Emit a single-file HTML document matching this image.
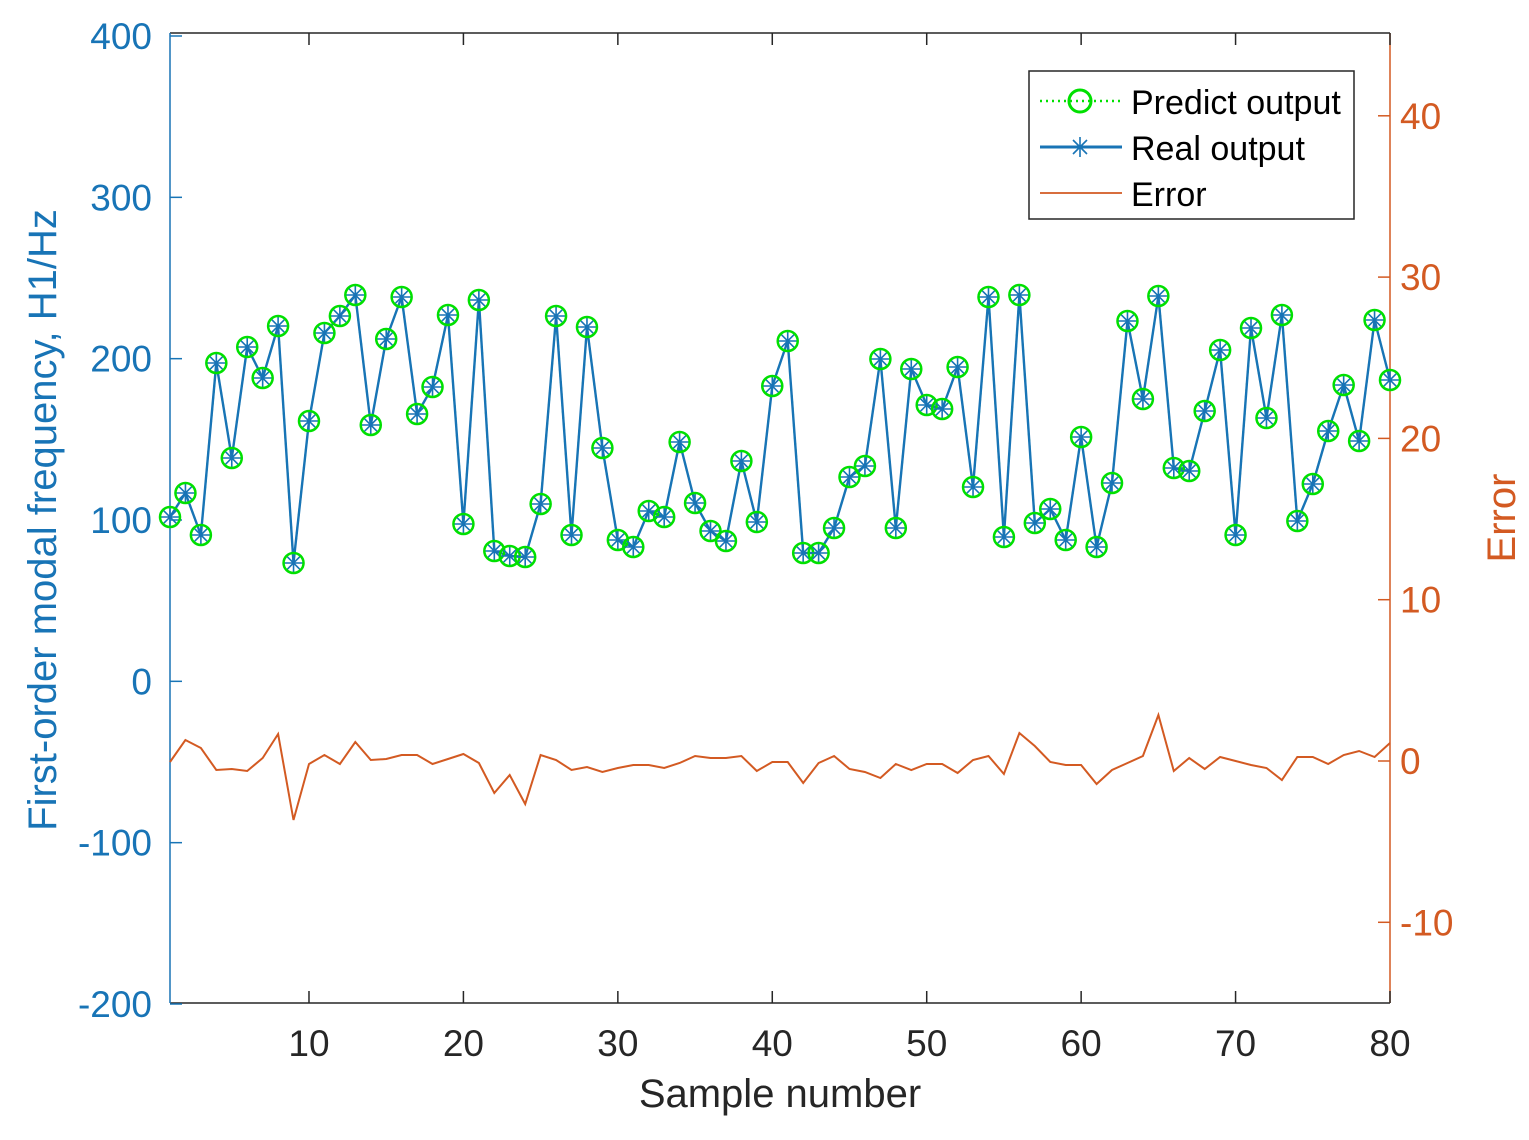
<!DOCTYPE html>
<html><head><meta charset="utf-8"><style>
html,body{margin:0;padding:0;background:#fff}
svg text{font-family:"Liberation Sans",sans-serif}
</style></head><body>
<svg id="s" width="1529" height="1135" xmlns="http://www.w3.org/2000/svg">
<rect width="1529" height="1135" fill="#fff"/>
<g id="g"></g>
</svg>
<script>
const Y=[517,493,535,363,458,347,378,326,563,421,333,316,295,425,339,297,414,387,315,524,300,551,556,557,504,316,535,327,448,540,547,511,517,442,503,531,541,461,522,386,341,553,553,528,477,466,359,528,369,405,409,367,487,297,537,295,523,509,540,437,547,483,321,399,296,468,471,411,350,535,328,418,315,521,484,431,385,441,320,380];
const E=[762,740,748,770,769,771,758,734,820,764,755,764,742,760,759,755,755,764,759,754,763,793,775,804,755,760,770,767,772,768,765,765,768,763,756,758,758,756,771,762,762,783,763,756,769,772,778,764,770,764,764,773,760,756,774,733,746,762,765,765,784,770,763,756,715,771,758,769,757,761,765,768,780,757,757,764,755,751,757,743];
const X=i=>170+i*1220/79;
const blue="#1874B6",org="#D35A22",grn="#00E000";
let h="";
h+=`<line x1="170" y1="33" x2="1390" y2="33" stroke="#262626" stroke-width="1.5"/>`;
h+=`<line x1="170" y1="1003" x2="1390" y2="1003" stroke="#262626" stroke-width="1.5"/>`;
h+=`<line x1="170" y1="33" x2="170" y2="1003" stroke="${blue}" stroke-width="1.5"/>`;
h+=`<line x1="1390" y1="33" x2="1390" y2="1003" stroke="${org}" stroke-width="1.5"/>`;
for(let v=10;v<=80;v+=10){const x=170+(v-1)*1220/79;
h+=`<line x1="${x}" y1="1003" x2="${x}" y2="991" stroke="#262626" stroke-width="1.5"/><line x1="${x}" y1="33" x2="${x}" y2="45" stroke="#262626" stroke-width="1.5"/>`;
h+=`<text x="${x}" y="1056" font-size="37" fill="#262626" text-anchor="middle">${v}</text>`;}
for(let v=-200;v<=400;v+=100){const y=36+(400-v)*968/600;
h+=`<line x1="170" y1="${y}" x2="182" y2="${y}" stroke="${blue}" stroke-width="1.5"/>`;
h+=`<text x="152" y="${y+13}" font-size="37" fill="${blue}" text-anchor="end">${v}</text>`;}
for(let v=-10;v<=40;v+=10){const y=761-v*16.13;
h+=`<line x1="1378" y1="${y}" x2="1390" y2="${y}" stroke="${org}" stroke-width="1.5"/>`;
h+=`<text x="1400" y="${y+13}" font-size="37" fill="${org}">${v}</text>`;}
h+=`<text x="780" y="1107" font-size="40" fill="#262626" text-anchor="middle">Sample number</text>`;
h+=`<text transform="translate(56,520) rotate(-90)" font-size="40" fill="${blue}" text-anchor="middle">First-order modal frequency, H1/Hz</text>`;
h+=`<text transform="translate(1515,518) rotate(-90)" font-size="40" fill="${org}" text-anchor="middle">Error</text>`;
const pts=Y.map((y,i)=>X(i).toFixed(1)+","+y).join(" ");
const ept=E.map((y,i)=>X(i).toFixed(1)+","+y).join(" ");
h+=`<polyline points="${ept}" fill="none" stroke="${org}" stroke-width="2"/>`;
h+=`<polyline points="${pts}" fill="none" stroke="${grn}" stroke-width="2" stroke-dasharray="2,4"/>`;
h+=`<polyline points="${pts}" fill="none" stroke="${blue}" stroke-width="2.4"/>`;
const star=(x,y,r)=>`<path d="M${x-r},${y}H${x+r}M${x},${y-r}V${y+r}M${x-r*.7},${y-r*.7}L${x+r*.7},${y+r*.7}M${x-r*.7},${y+r*.7}L${x+r*.7},${y-r*.7}" stroke="${blue}" stroke-width="1.6"/>`;
Y.forEach((y,i)=>{const x=X(i);h+=star(x,y,9);h+=`<circle cx="${x}" cy="${y}" r="10" fill="none" stroke="${grn}" stroke-width="2.5"/>`;});
h+=`<rect x="1029" y="71" width="325" height="148" fill="#fff" stroke="#262626" stroke-width="1.5"/>`;
h+=`<line x1="1040" y1="101" x2="1122" y2="101" stroke="${grn}" stroke-width="2.5" stroke-dasharray="2,4"/><circle cx="1080" cy="101" r="11" fill="none" stroke="${grn}" stroke-width="3"/>`;
h+=`<line x1="1040" y1="147" x2="1122" y2="147" stroke="${blue}" stroke-width="3"/>`+star(1080,147,10);
h+=`<line x1="1040" y1="193" x2="1122" y2="193" stroke="${org}" stroke-width="1.8"/>`;
h+=`<text x="1131" y="114" font-size="34" fill="#000">Predict output</text>`;
h+=`<text x="1131" y="160" font-size="34" fill="#000">Real output</text>`;
h+=`<text x="1131" y="206" font-size="34" fill="#000">Error</text>`;
document.getElementById("g").innerHTML=h;
</script>
</body></html>
